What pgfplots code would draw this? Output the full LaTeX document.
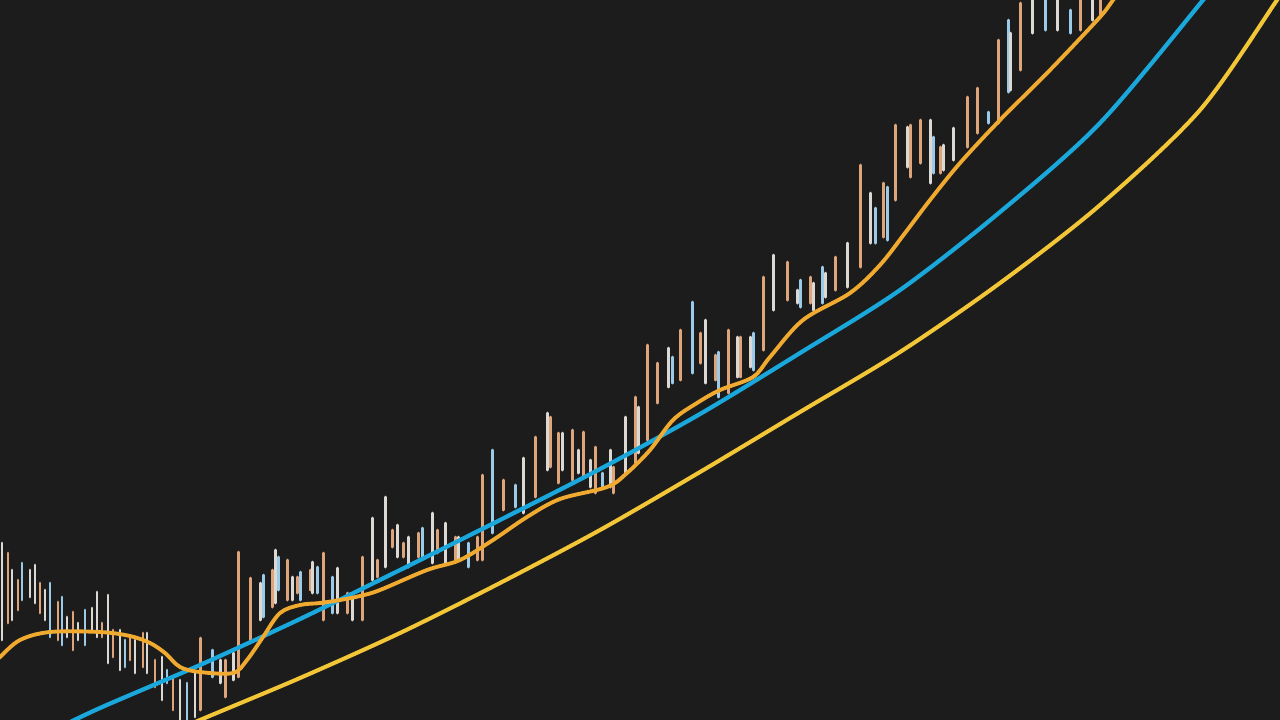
\documentclass[border=0pt]{standalone}
\usepackage{pgfplots}
\usepackage{pgfplotstable}
\pgfplotsset{compat=1.18}
\definecolor{bg}{HTML}{1C1C1C}
\definecolor{maBlue}{HTML}{1AA8DC}
\definecolor{maOrange}{HTML}{F0AA30}
\definecolor{maYellow}{HTML}{F2C637}
\definecolor{barO}{HTML}{DFA57A}
\definecolor{barB}{HTML}{9CCBEA}
\definecolor{barW}{HTML}{DCD8D4}

% x, top pixel, bottom pixel
\pgfplotstableread{
x top bot
8 553 623
18 580 610
40 583 613
58 602 640
73 612 650
102 623 637
113 630 657
130 637 660
143 633 667
155 660 687
173 677 710
200 638 710
225 660 697
238 552 677
250 578 640
272 570 607
287 560 600
297 577 593
310 570 590
323 553 620
347 593 613
362 557 620
377 560 577
392 530 547
403 543 557
418 533 557
437 530 553
455 537 560
477 537 560
482 475 560
503 480 510
535 437 497
550 417 467
558 433 483
572 430 480
583 432 477
595 447 493
613 467 493
635 397 463
647 345 440
657 363 403
680 330 380
700 333 363
715 355 380
728 330 393
740 337 377
763 277 350
787 262 300
810 277 303
835 257 290
860 165 267
883 183 237
895 125 200
910 125 177
920 120 163
940 147 173
967 97 147
977 88 133
998 40 123
1020 3 70
1080 0 30
1100 0 17
}\barsO

\pgfplotstableread{
x top bot
22 563 600
50 583 637
62 597 645
85 610 645
125 640 667
167 670 683
187 683 720
212 650 677
263 575 617
278 557 590
300 572 600
317 567 593
332 577 613
422 528 557
468 543 567
492 450 533
515 485 507
602 473 487
672 357 383
692 302 373
718 352 397
753 333 370
800 280 307
822 267 303
875 208 243
887 187 240
933 137 173
988 112 123
1008 20 92
1045 0 30
1070 10 33
}\barsB

\pgfplotstableread{
x top bot
2 543 640
12 570 620
30 570 597
35 565 603
45 590 620
67 617 637
78 623 640
92 608 630
97 592 637
108 595 663
120 630 670
135 640 673
147 633 673
162 657 700
180 680 720
195 673 717
220 660 683
233 653 680
260 583 620
275 550 603
292 577 600
312 562 593
337 568 613
352 597 620
372 518 580
385 497 567
397 525 557
408 537 567
432 513 563
445 523 563
458 537 560
523 458 513
547 413 470
562 433 470
578 450 473
590 460 487
610 450 487
625 417 473
638 407 453
668 348 387
705 320 383
737 337 377
750 337 367
773 255 310
797 290 303
813 283 310
825 273 297
847 243 287
870 193 243
907 127 167
930 120 183
943 145 170
953 128 160
1010 33 90
1032 0 33
1057 0 30
1092 0 20
}\barsW

\pgfplotsset{
  candle/.style={draw=none, mark=none, forget plot,
    error bars/.cd, y dir=plus, y explicit, error mark=none,
    error bar style={line width=0.85pt, draw=#1, solid, line cap=round}},
}

\begin{document}
\begin{tikzpicture}
\useasboundingbox (0,0) rectangle (12.8cm,7.2cm);
\fill[bg] (0,0) rectangle (12.8cm,7.2cm);
\begin{axis}[
  at={(0,0)}, anchor=south west,
  scale only axis, width=12.8cm, height=7.2cm,
  xmin=0, xmax=1280, ymin=0, ymax=720,
  y dir=reverse, hide axis, clip=true,
  enlargelimits=false,
]
\addplot[candle=barO]
  table[x=x, y=top, y error expr=\thisrow{bot}-\thisrow{top}] {\barsO};
\addplot[candle=barB]
  table[x=x, y=top, y error expr=\thisrow{bot}-\thisrow{top}] {\barsB};
\addplot[candle=barW]
  table[x=x, y=top, y error expr=\thisrow{bot}-\thisrow{top}] {\barsW};

% lower yellow MA
\addplot[maYellow, line width=1.15pt, smooth, tension=0.5, mark=none] coordinates {
(150,742) (200,720) (300,678) (400,633) (500,583) (600,530) (700,472) (800,412)
(900,352) (1000,283) (1100,205) (1200,110) (1277,0) (1300,-35)};

% blue MA
\addplot[maBlue, line width=1.2pt, smooth, tension=0.5, mark=none] coordinates {
(50,732) (100,708) (200,665) (300,619) (400,570) (500,520) (600,469) (700,414)
(800,353) (900,290) (1000,212) (1100,123) (1203,0) (1230,-35)};

% orange MA
\addplot[maOrange, line width=1.1pt, smooth, tension=0.55, mark=none] coordinates {
(-5,662) (0,657) (20,640) (50,632) (100,632) (130,636) (150,643) (165,653)
(180,667) (200,672) (233,673) (247,660) (263,637) (280,613) (300,605) (320,603)
(340,600) (360,596) (380,590) (427,570) (460,560) (493,540) (527,517) (560,499)
(607,487) (627,473) (650,450) (673,420) (697,403) (720,390) (753,377) (770,357)
(803,320) (850,293) (880,265) (905,233) (930,200) (960,163) (1000,120)
(1050,70) (1100,17) (1113,0) (1125,-12)};
\end{axis}
\end{tikzpicture}
\end{document}
